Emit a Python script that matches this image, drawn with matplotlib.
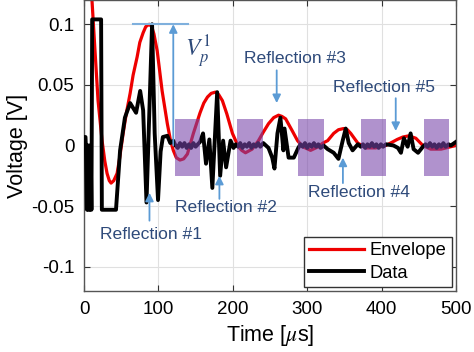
import matplotlib
matplotlib.use("Agg")
import matplotlib.pyplot as plt
from matplotlib.patches import Rectangle

plt.rcParams['font.family'] = ['Liberation Sans', 'DejaVu Sans']
plt.rcParams['mathtext.fontset'] = 'stix'

# ---------------- data ----------------
env_t = [0, 6, 10.8, 14.8, 18.9, 24.3, 28, 31, 34, 36.4, 40, 44.5, 48, 52.6, 57, 62,
         66, 71.4, 75, 79.5, 83, 87.6, 91, 94, 98.4, 105, 112, 116, 120, 124, 129,
         134, 139, 147, 156, 161, 166, 171, 176.5, 181, 186, 192, 199.5, 207.5,
         212, 217, 226, 234.5, 241, 248, 255, 261.5, 266, 271, 280, 287, 294,
         304.6, 315, 321, 327.5, 335.6, 342, 349, 354, 358.5, 368, 379, 392,
         405.7, 415, 421, 428.6, 436.7, 446, 455.5, 466, 480, 493, 500]
env_v = [0.20, 0.15, 0.119, 0.078, 0.037, 0.004, -0.013, -0.023, -0.029, -0.031,
         -0.029, -0.023, -0.010, 0.010, 0.027, 0.043, 0.058, 0.073, 0.085, 0.093,
         0.098, 0.100, 0.098, 0.092, 0.078, 0.045, 0.018, 0.005, -0.004, -0.010,
         -0.012, -0.011, -0.007, 0.010, 0.027, 0.035, 0.040, 0.043, 0.044, 0.042,
         0.037, 0.026, 0.010, -0.001, -0.004, -0.006, -0.003, 0.004, 0.011,
         0.018, 0.023, 0.025, 0.024, 0.022, 0.012, 0.004, -0.001, -0.004, -0.001,
         0.002, 0.004, 0.010, 0.013, 0.014, 0.013, 0.010, 0.002, -0.002, -0.002,
         0.000, 0.003, 0.005, 0.007, 0.008, 0.006, 0.000, -0.003, -0.003, -0.001,
         0.000]

data_t = [0, 2, 2.5, 4, 5, 6, 7, 8, 9, 10, 11, 23, 24, 43, 48.5, 55, 62, 66, 70,
          75.5, 79.5, 84, 91.5, 95, 99.5, 103, 106, 112, 116, 120,
          123, 126, 129, 132, 135, 138, 141, 144, 147, 150, 153, 156,
          160, 164, 168.5, 172.5, 179, 183, 187, 191, 197, 201,
          204, 207, 210, 213, 216, 219, 222, 225, 228, 231, 234, 237,
          241, 248, 253, 256, 260, 264, 268, 269.5, 275, 282, 288,
          291, 294, 297, 300, 303, 306, 309, 312, 315, 318,
          322, 327.5, 335.6, 342, 347.7, 351.8, 355.8, 361, 368,
          372, 375, 378, 381, 384, 387, 390, 393, 396, 399, 402,
          406, 416, 422, 426, 430, 435, 439, 443, 449, 455.5,
          459, 462, 465, 468, 471, 474, 477, 480, 483, 486,
          490, 493, 500]
data_v = [0.007, 0.007, 0.0, -0.053, 0.0, -0.053, 0.0, -0.053, 0.0, -0.053, 0.104,
          0.104, -0.053, -0.053, -0.004, 0.023, 0.035, 0.031, 0.027,
          0.045, 0.029, -0.047, 0.100, 0.010, -0.045, -0.005, 0.007, 0.008, 0.002, 0.004,
          0.000, -0.002, 0.002, -0.001, 0.002, -0.002, 0.001, -0.002, 0.002, -0.001, 0.001, 0.003,
          0.010, -0.015, 0.005, -0.035, 0.044, -0.025, 0.004, -0.018, 0.004, -0.002,
          0.001, -0.001, 0.002, -0.002, 0.001, -0.001, 0.002, -0.002, 0.001, -0.001, 0.002, -0.001,
          0.002, -0.002, -0.010, -0.019, 0.010, 0.023, -0.004, 0.014, -0.010, -0.010, -0.002,
          0.001, -0.001, 0.002, -0.002, 0.001, -0.001, 0.002, -0.001, 0.001, -0.002,
          0.000, -0.003, -0.006, -0.011, 0.004, 0.014, 0.002, -0.004, 0.001,
          -0.001, 0.001, -0.002, 0.001, -0.001, 0.002, -0.001, 0.001, -0.002, 0.001, -0.001,
          0.001, 0.000, -0.002, -0.006, 0.006, -0.001, 0.010, -0.003, -0.006, -0.001,
          0.001, -0.001, 0.002, -0.001, 0.001, -0.002, 0.001, -0.001, 0.002, -0.001,
          0.001, 0.000, 0.003]

win_start = [122.6, 206, 288, 372, 457]
win_end = [156, 241, 322, 405.6, 490.5]
win_low, win_high = -0.025, 0.022

refl_labels = ['Reflection #1', 'Reflection #2', 'Reflection #3',
               'Reflection #4', 'Reflection #5']
refl_text_xy = [(90, -0.073), (191, -0.051), (284, 0.072), (369, -0.039), (403, 0.048)]
refl_arrow_x = [88, 182, 259, 348, 419]
refl_arrow_tail = [-0.062, -0.044, 0.062, -0.031, 0.039]
refl_arrow_tip = [-0.039, -0.025, 0.035, -0.010, 0.012]

vp_value = 0.1
vp_line_t = (66, 140)
vp_arrow_t = 120

xticks = [0, 100, 200, 300, 400, 500]
yticks = [-0.1, -0.05, 0, 0.05, 0.1]
ytick_labels = ['-0.1', '-0.05', '0', '0.05', '0.1']

# ---------------- figure ----------------
W, H = 474, 352
fig = plt.figure(figsize=(W / 100, H / 100), dpi=100)
ax = fig.add_axes([84 / W, 1 - 291 / H, (456 - 84) / W, 291 / H])

text_col = '#2e4a7a'
arrow_col = '#5b9bd5'

ax.plot(env_t, env_v, color='#ee0000', lw=2.3, zorder=2, label='Envelope',
        solid_joinstyle='round')
ax.plot(data_t, data_v, color='black', lw=2.8, zorder=3, label='Data',
        solid_joinstyle='round')

for s, e in zip(win_start, win_end):
    ax.add_patch(Rectangle((s, win_low), e - s, win_high - win_low,
                           facecolor='#7744aa', alpha=0.58, edgecolor='none', zorder=4))

# Vp annotation
ax.plot(vp_line_t, [vp_value, vp_value], color='#7fb0dd', lw=1.5, zorder=5)
ax.annotate('', xy=(vp_arrow_t, vp_value), xytext=(vp_arrow_t, 0.0),
            arrowprops=dict(arrowstyle='-|>', color=arrow_col, lw=1.3,
                            mutation_scale=12, shrinkA=0, shrinkB=0), zorder=5)
ax.text(136, 0.077, r'$V_p^1$', color=text_col, fontsize=17, ha='left', va='center',
        zorder=6)

for lab, (tx, ty), axx, tail, tip in zip(refl_labels, refl_text_xy, refl_arrow_x,
                                        refl_arrow_tail, refl_arrow_tip):
    ax.annotate('', xy=(axx, tip), xytext=(axx, tail),
                arrowprops=dict(arrowstyle='-|>', color=arrow_col, lw=1.3,
                                mutation_scale=12, shrinkA=0, shrinkB=0), zorder=6)
    ax.text(tx, ty, lab, color=text_col, fontsize=12.6, ha='center', va='center', zorder=6)

ax.set_xlim(0, 500)
ax.set_ylim(-0.12, 0.12)
ax.set_xticks(xticks)
ax.set_yticks(yticks)
ax.set_yticklabels(ytick_labels)
ax.tick_params(direction='in', length=4, width=0.8, top=True, right=True,
               labelsize=13.5, colors='#333333', labelcolor='black', pad=7)
ax.grid(True, color='#e0e0e0', lw=0.8, zorder=0)
ax.set_axisbelow(True)
for sp in ax.spines.values():
    sp.set_color('#555555')
    sp.set_linewidth(1.0)

ax.set_xlabel(r'Time [$\mu$s]', fontsize=15.5, labelpad=4)
ax.set_ylabel('Voltage [V]', fontsize=15.5, labelpad=2)

leg = ax.legend(loc='lower right', bbox_to_anchor=(1.0, 0.0), borderaxespad=0.2,
                fontsize=13.2, handlelength=3.0, handletextpad=0.3, labelspacing=0.3,
                borderpad=0.3, fancybox=False, framealpha=1, edgecolor='#333333')
leg.get_frame().set_linewidth(1.0)
leg.set_zorder(10)

fig.savefig('out.png', dpi=100)
